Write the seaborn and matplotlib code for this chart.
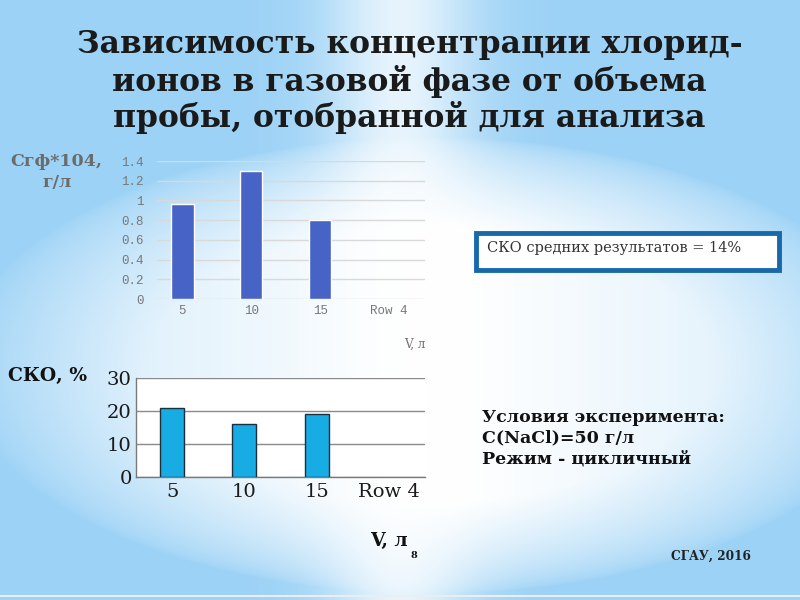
import numpy as np
import pandas as pd
import matplotlib
matplotlib.use("Agg")
import matplotlib.pyplot as plt
import seaborn as sns
from matplotlib.patches import FancyBboxPatch

# ---- data ----
categories = ["5", "10", "15", "Row 4"]
conc_values = [0.96, 1.30, 0.80, np.nan]      # Cгф*10^4, г/л
sko_values = [21, 16, 19, np.nan]             # СКО, %
top_yticks = [0, 0.2, 0.4, 0.6, 0.8, 1, 1.2, 1.4]
top_yticklabels = ["0", "0.2", "0.4", "0.6", "0.8", "1", "1.2", "1.4"]
bot_yticks = [0, 10, 20, 30]

title_lines = ["Зависимость концентрации хлорид-",
               "ионов в газовой фазе от объема",
               "пробы, отобранной для анализа"]
cond_lines = ["Условия эксперимента:", "C(NaCl)=50 г/л", "Режим - цикличный"]

sns.set_theme(style="white")
plt.rcParams['font.family'] = ['DejaVu Serif', 'DejaVu Sans']

fig = plt.figure(figsize=(8, 6), dpi=100)

# ---- background gradient ----
bg = fig.add_axes([0, 0, 1, 1], zorder=-10)
H, W = 600, 800
yy, xx = np.mgrid[0:H, 0:W]
d = np.sqrt(((xx - 430) / 470.0) ** 2 + ((yy - 365) / 228.0) ** 2)
w_ell = np.clip((1.0 - d) / 0.4, 0, 1) ** 0.6
w_hor = np.clip(1 - np.abs(xx - 450) / 600.0, 0, 1) ** 0.5
w = w_ell * w_hor
band = np.exp(-((xx - 400) / 75.0) ** 2) * 0.75
w = np.clip(w + band * (1 - w), 0, 1)
blue = np.array([156, 210, 246]) / 255.0
white = np.array([1.0, 1.0, 1.0])
img = blue[None, None, :] * (1 - w[..., None]) + white[None, None, :] * w[..., None]
img[595:597, :, :] = 0.93
bg.imshow(img, aspect="auto", extent=[0, 1, 0, 1], origin="upper")
bg.set_xlim(0, 1); bg.set_ylim(0, 1)
bg.axis("off")

# ---- title ----
for i, line in enumerate(title_lines):
    fig.text(0.512, 1 - (45 + 36 * i) / 600, line, ha="center", va="center",
             fontsize=22.6, fontweight="bold", color="#1a1a1a")

# ---- top chart ----
df_top = pd.DataFrame({"V": categories, "C": conc_values})
ax1 = fig.add_axes([157 / 800, 1 - 299 / 600, 268 / 800, 138 / 600])
ax1.patch.set_alpha(0)
sns.barplot(data=df_top, x="V", y="C", order=categories, color="#4863c6",
            saturation=1, width=0.32, ax=ax1, zorder=3)
ax1.set_xlim(-0.37, 3.52)
ax1.set_ylim(0, 1.4)
ax1.set_yticks(top_yticks)
ax1.set_yticklabels(top_yticklabels)
ax1.grid(axis="y", color="#d9d9d9", linewidth=1, zorder=0)
for s in ax1.spines.values():
    s.set_visible(False)
ax1.set_xlabel(""); ax1.set_ylabel("")
ax1.tick_params(axis="both", length=0, labelsize=9, labelcolor="#787878")
for t in ax1.get_xticklabels() + ax1.get_yticklabels():
    t.set_family("Liberation Mono")
ax1.tick_params(axis="x", pad=4)
ax1.tick_params(axis="y", pad=9.5)
fig.text(56 / 800, 1 - 161 / 600, "Сгф*104,", ha="center", va="center",
         fontsize=12.5, fontweight="bold", color="#6b6b6b")
fig.text(57 / 800, 1 - 183 / 600, "г/л", ha="center", va="center",
         fontsize=12.5, fontweight="bold", color="#6b6b6b")
fig.text(415 / 800, 1 - 344 / 600, "V, л", ha="center", va="center",
         fontsize=9.5, color="#707070", fontstretch="condensed")

# ---- bottom chart ----
df_bot = pd.DataFrame({"V": categories, "SKO": sko_values})
ax2 = fig.add_axes([136 / 800, 1 - 477 / 600, 289 / 800, 99 / 600])
ax2.set_facecolor("white")
sns.barplot(data=df_bot, x="V", y="SKO", order=categories, color="#17ace3",
            saturation=1, width=0.33, edgecolor="#1d2f3a", linewidth=1,
            ax=ax2, zorder=3)
ax2.set_xlim(-0.5, 3.5)
ax2.set_ylim(0, 30)
ax2.set_yticks(bot_yticks)
ax2.grid(axis="y", color="#8a8a8a", linewidth=1, zorder=0)
for k in ["top", "right"]:
    ax2.spines[k].set_visible(False)
for k in ["left", "bottom"]:
    ax2.spines[k].set_color("#7a7a7a")
    ax2.spines[k].set_linewidth(1)
ax2.set_xlabel(""); ax2.set_ylabel("")
ax2.tick_params(axis="both", length=0, labelsize=14, labelcolor="#1a1a1a")
ax2.tick_params(axis="y", pad=3)
ax2.tick_params(axis="x", pad=4)
fig.text(48 / 800, 1 - 376 / 600, "СКО, %", ha="center", va="center",
         fontsize=13.5, fontweight="bold", color="#111111")
fig.text(389 / 800, 1 - 541 / 600, "V, л", ha="center", va="center",
         fontsize=13.5, fontweight="bold", color="#111111")
fig.text(414 / 800, 1 - 555 / 600, "8", ha="center", va="center",
         fontsize=7, fontweight="bold", color="#111111")

# ---- info box ----
box = FancyBboxPatch((476 / 800, 1 - 270 / 600), 303 / 800, 37 / 600,
                     boxstyle="square,pad=0", transform=fig.transFigure,
                     facecolor="white", edgecolor="#1769aa", linewidth=3.5)
fig.patches.append(box)
fig.text(487 / 800, 1 - 248 / 600, "СКО средних результатов = 14%",
         ha="left", va="center", fontsize=10.5, color="#333333")

# ---- conditions text ----
for i, line in enumerate(cond_lines):
    fig.text(482 / 800, 1 - (417 + 21 * i) / 600, line, ha="left", va="center",
             fontsize=12.5, fontweight="bold", color="#111111")

fig.text(711 / 800, 1 - 556 / 600, "СГАУ, 2016", ha="center", va="center",
         fontsize=8.7, fontweight="bold", color="#222222")

fig.savefig("out.png", dpi=100)
